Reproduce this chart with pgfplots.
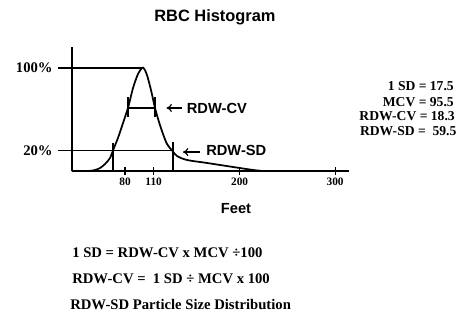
\documentclass[border=0pt]{standalone}
\usepackage{pgfplots}
\pgfplotsset{compat=1.18}
\usetikzlibrary{arrows.meta}
\usepackage{fontspec}
\setmainfont{Liberation Serif}
\newfontfamily\arial{Liberation Sans}
\begin{document}
\begin{tikzpicture}
\path (-54pt,-118.5pt) rectangle (301.5pt,128.25pt);
\begin{axis}[at={(0pt,0pt)}, anchor=south west, scale only axis,
 width=207.75pt, height=93pt,
 xmin=24.5, xmax=314.5, ymin=0, ymax=120.4,
 axis x line=bottom, axis y line=left,
 axis line style={line width=1.5pt,-},
 xtick={80,110,200,300}, ytick={20,100}, yticklabels={20\%,100\%},
 tick align=center, major tick length=6pt,
 xtick style={line width=0.8pt, black},
 ytick style={draw=none},
 /pgf/number format/assume math mode=true,
 xticklabel style={font=\bfseries\fontsize{8.5}{9}\selectfont, yshift=1.5pt},
 yticklabel style={font=\bfseries\fontsize{11}{12}\selectfont, xshift=-8pt},
 clip=false]
% distribution curve
\addplot[line width=1.3pt, smooth, tension=0.5] coordinates {
(24.5,0)(41.3,0)(48.6,1)(53.8,2.9)(59.1,6.8)(64.3,12.6)(67.4,20)(72.6,32)
(77.9,46.6)(83.1,61.2)(88.4,80.6)(93.6,94.2)(97.8,100)(99.9,99.5)(103,93.2)
(107.2,78.6)(111.4,61.2)(115.6,47.6)(119.8,35.9)(124,26.2)(129.2,20)(134.4,14.6)
(144.9,10.7)(165.8,7.8)(193.1,3.9)(214,1)(224.5,0)};
% reference lines
\addplot[line width=0.8pt] coordinates {(9.8,100)(97.8,100)};
\addplot[line width=0.8pt] coordinates {(9.8,20)(130.3,20)};
\addplot[line width=0.8pt] coordinates {(83.1,61.2)(111.4,61.2)};
\addplot[line width=0.8pt] coordinates {(83.1,52.4)(83.1,71.8)};
\addplot[line width=0.8pt] coordinates {(111.4,52.4)(111.4,71.8)};
\addplot[line width=0.9pt] coordinates {(67.4,0)(67.4,27)};
\addplot[line width=0.9pt] coordinates {(130.3,0)(130.3,28)};
% annotations
\draw[{To[length=4pt,width=6pt]}-, line width=0.9pt] (axis cs:123.5,61.2) -- (axis cs:139.5,61.2);
\node[anchor=west, inner sep=0pt, font=\arial\bfseries\fontsize{11}{12}\selectfont] at (axis cs:144.5,61.2) {RDW-CV};
\draw[{To[length=4pt,width=6pt]}-, line width=0.9pt] (axis cs:140.7,18.4) -- (axis cs:158.5,18.4);
\node[anchor=west, inner sep=0pt, font=\arial\bfseries\fontsize{11}{12}\selectfont] at (axis cs:164.8,20.4) {RDW-SD};
\end{axis}
\node[font=\arial\bfseries\fontsize{12.3}{14}\selectfont] at (107.25pt,115.5pt) {RBC Histogram};
\node[font=\arial\bfseries\fontsize{11}{13}\selectfont] at (123pt,-28.5pt) {Feet};
\begin{scope}[every node/.style={anchor=east, inner sep=0pt, font=\bfseries\fontsize{10.2}{12}\selectfont}]
\node at (286.5pt,63.75pt) {1 SD = 17.5};
\node at (286.5pt,51.75pt) {MCV = 95.5};
\node at (287.25pt,41.25pt) {RDW-CV = 18.3};
\node at (288.5pt,30pt) {RDW-SD = \ 59.5};
\end{scope}
\begin{scope}[every node/.style={anchor=west, inner sep=0pt, font=\bfseries\fontsize{11}{13}\selectfont}]
\node at (0pt,-61.5pt) {1 SD = RDW-CV x MCV ÷100};
\node at (0pt,-81pt) {RDW-CV = \ 1 SD ÷ MCV x 100};
\node at (-1.5pt,-100.5pt) {RDW-SD Particle Size Distribution};
\end{scope}
\end{tikzpicture}
\end{document}
